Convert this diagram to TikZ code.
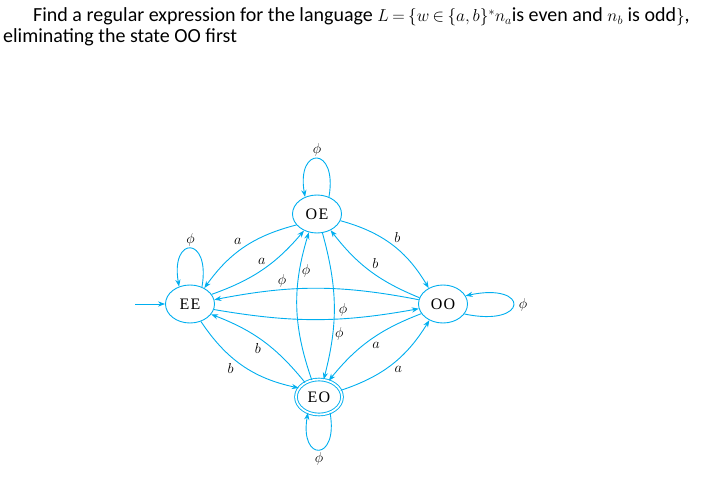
\documentclass[tikz,border=0pt]{standalone}
\usepackage{fontspec}
\setmainfont{Carlito}
\newfontfamily\statefont[LetterSpace=8]{Liberation Serif}
\usetikzlibrary{arrows.meta,shapes.geometric}
\definecolor{fsa}{RGB}{0,174,239}
\newcommand{\mth}[1]{{\fontsize{18.5}{20}\selectfont$#1$}}

\begin{document}
\begin{tikzpicture}[x=1pt,y=1pt,
		state/.style={draw=fsa,line width=.9pt,ellipse,minimum width=49pt,minimum height=38pt,inner sep=0pt,font=\statefont\fontsize{16}{16}\selectfont},
		accepting/.style={double=white,double distance=1.8pt,minimum width=46pt,minimum height=35pt},
		tr/.style={draw=fsa,line width=.9pt,-{Stealth[length=7pt,width=5.2pt]}},
		lbl/.style={font=\fontsize{15}{15}\selectfont,inner sep=2pt}]
		\useasboundingbox (0,0) rectangle (702,-484);
		\thickmuskip=3.5mu plus 2mu
		\node[anchor=base west,inner sep=0pt,font=\fontsize{20}{24}\selectfont] (line1) at (33,-22) {Find a regular expression for the language \mth{L = \{w \in \{a,b\}^{*} n_a}is even and \mth{n_b} is odd\mth{\}},};
		\node[anchor=base west,inner sep=0pt,font=\fontsize{20}{24}\selectfont] (line2) at (3,-43) {eliminating the state OO first};
		% states
		\node[state] (OE) at (317,-214) {OE};
		\node[state] (EE) at (190,-304) {EE};
		\node[state] (OO) at (443,-304) {OO};
		\node[state,accepting] (EO) at (319,-397) {EO};
		\coordinate (start) at (135,-304);
		\draw[tr] (start) -- (EE);
		% loops
		\draw[tr] (EE.55) .. controls +(80:52) and +(100:52) .. node[lbl,above] {$\phi$} (EE.122);
		\draw[tr] (OE.55) .. controls +(80:52) and +(100:52) .. node[lbl,above] {$\phi$} (OE.125);
		\draw[tr] (EO.-55) .. controls +(-80:50) and +(-100:50) .. node[lbl,below] {$\phi$} (EO.-125);
		\draw[tr] (OO.-25) .. controls +(-12:66) and +(12:66) .. node[lbl,right=3pt] {$\phi$} (OO.20);
		% EE -- OE
		\draw[tr] (OE.208) to[bend right=20] node[lbl,above left] {$a$} (EE.48);
		\draw[tr] (EE.24) to[bend right=15] node[lbl,pos=.55,above left=-1pt] {$a$} (OE.232);
		% OE -- OO
		\draw[tr] (OE.344) to[bend left=22] node[lbl,above right] {$b$} (OO.132);
		\draw[tr] (OO.165) to[bend left=15] node[lbl,above right] {$b$} (OE.310);
		% EE -- OO
		\draw[tr] (OO.170) to[bend right=11] node[lbl,pos=.68,above] {$\phi$} (EE.10);
		\draw[tr] (EE.-13) to[bend right=10] node[lbl,pos=.64,above] {$\phi$} (OO.191);
		% OE -- EO
		\draw[tr] (EO.113) to[bend left=18] node[lbl,pos=.75,right] {$\phi$} (OE.246);
		\draw[tr] (OE.286) to[bend left=15] node[lbl,pos=.7,right] {$\phi$} (EO.75);
		% EE -- EO
		\draw[tr] (EO.134) to[bend right=15] node[lbl,below left] {$b$} (EE.334);
		\draw[tr] (EE.302) to[bend right=22] node[lbl,pos=.43,below left] {$b$} (EO.156);
		% OO -- EO
		\draw[tr] (OO.204) to[bend right=15] node[lbl,below right] {$a$} (EO.59);
		\draw[tr] (EO.17) to[bend right=20] node[lbl,below right] {$a$} (OO.230);
	\end{tikzpicture}
\end{document}
